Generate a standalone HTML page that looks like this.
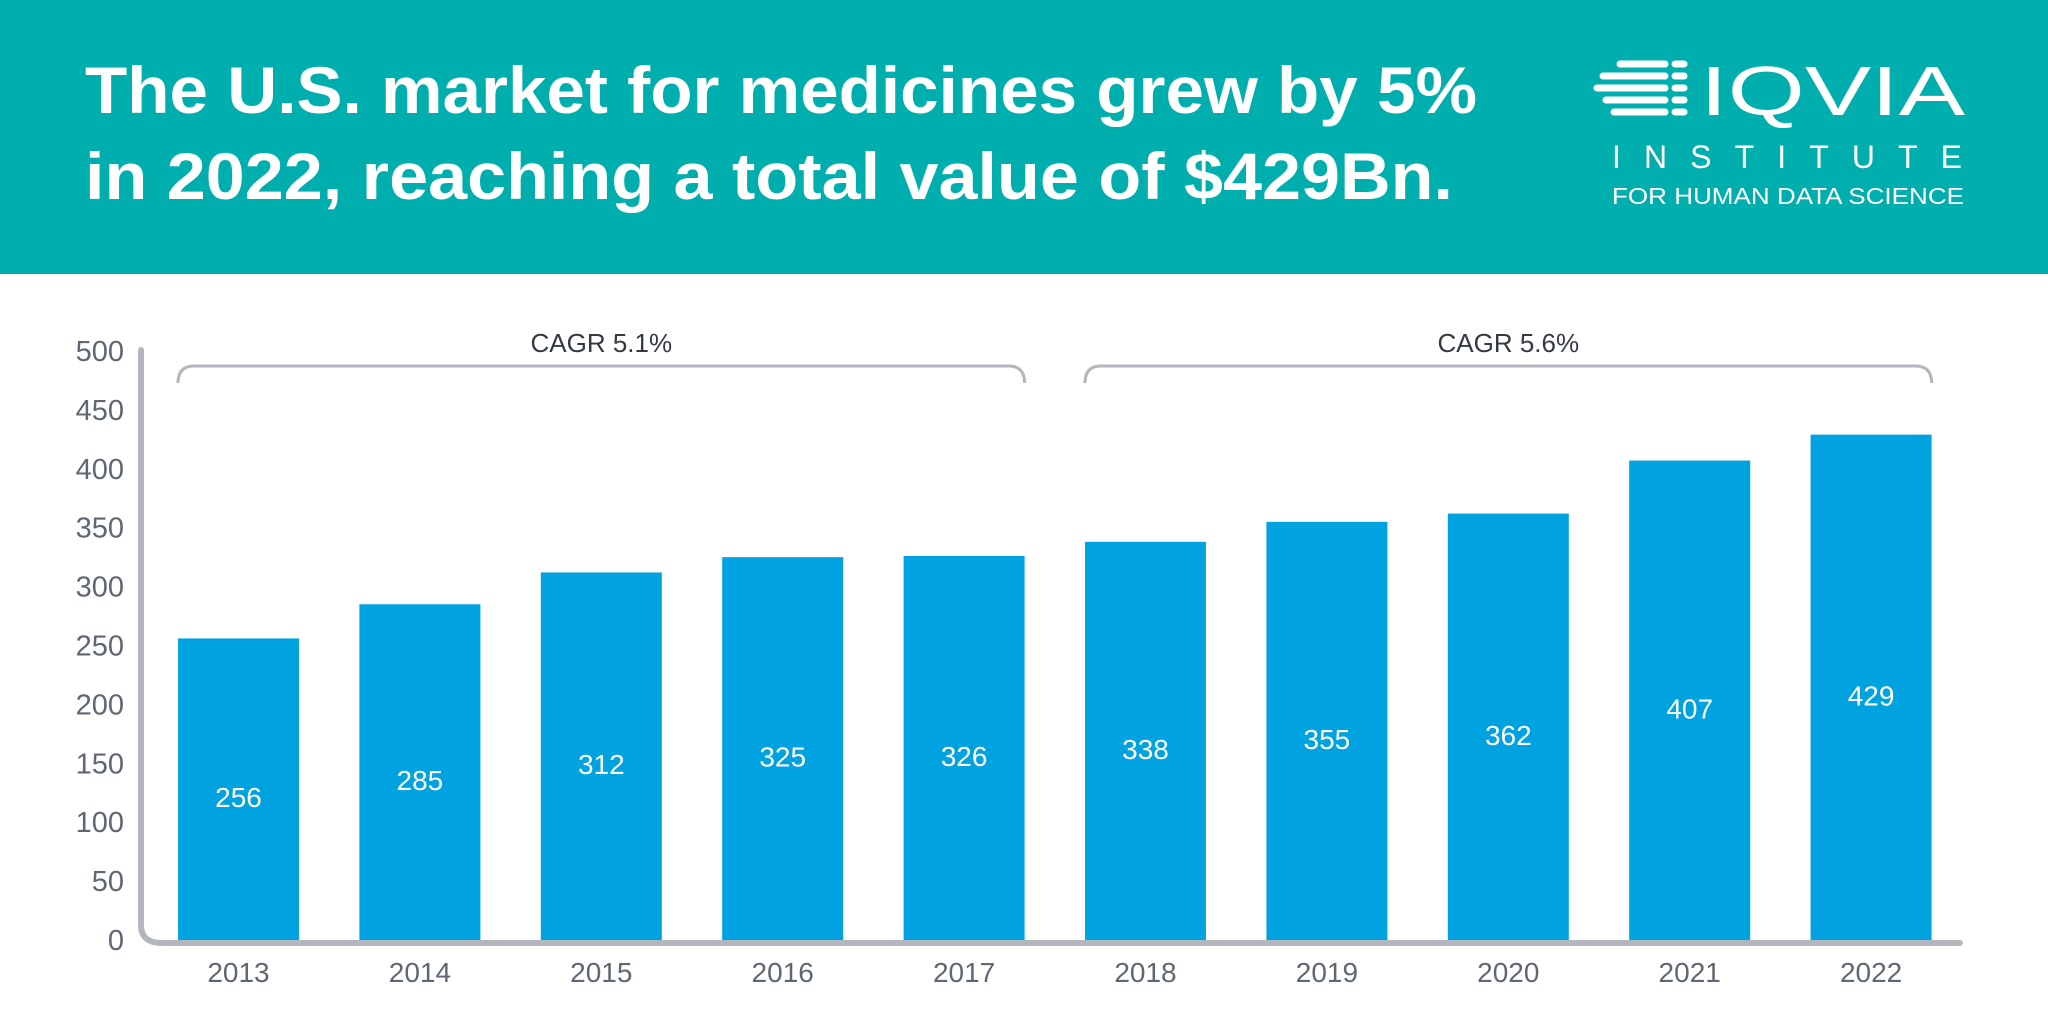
<!DOCTYPE html>
<html><head><meta charset="utf-8"><style>
html,body{margin:0;padding:0;width:2048px;height:1024px;overflow:hidden;background:#fff;font-family:"Liberation Sans",sans-serif}
</style></head><body>
<svg width="2048" height="1024" viewBox="0 0 2048 1024" xmlns="http://www.w3.org/2000/svg">
<rect x="0" y="0" width="2048" height="274" fill="#00AEAD"/>
<g fill="#fff" font-weight="bold" font-size="66">
<text x="85" y="113" textLength="1392" lengthAdjust="spacingAndGlyphs">The U.S. market for medicines grew by 5%</text>
<text x="85" y="199" textLength="1368" lengthAdjust="spacingAndGlyphs">in 2022, reaching a total value of $429Bn.</text>
</g>
<g fill="#fff" stroke="#fff">
<g stroke-width="7" stroke-linecap="round">
<line x1="1620" y1="64" x2="1665" y2="64"/><line x1="1675" y1="64" x2="1684" y2="64"/>
<line x1="1603" y1="76" x2="1665" y2="76"/><line x1="1675" y1="76" x2="1684" y2="76"/>
<line x1="1597" y1="88" x2="1665" y2="88"/><line x1="1675" y1="88" x2="1684" y2="88"/>
<line x1="1606" y1="100" x2="1665" y2="100"/><line x1="1675" y1="100" x2="1684" y2="100"/>
<line x1="1614" y1="112" x2="1665" y2="112"/><line x1="1675" y1="112" x2="1684" y2="112"/>
</g>
<text x="1700" y="115" font-size="70" stroke="none" textLength="265" lengthAdjust="spacingAndGlyphs">IQVIA</text>
<text x="1612" y="168" font-size="32" stroke="none" textLength="350" lengthAdjust="spacing">INSTITUTE</text>
<text x="1612" y="204" font-size="23" stroke="none" textLength="352" lengthAdjust="spacingAndGlyphs">FOR HUMAN DATA SCIENCE</text>
</g>
<g id="chart"></g>
</svg>
<script>
const categories=["2013","2014","2015","2016","2017","2018","2019","2020","2021","2022"];
const values=[256,285,312,325,326,338,355,362,407,429];
const yTicks=[0,50,100,150,200,250,300,350,400,450,500];
const cagrLabels=["CAGR 5.1%","CAGR 5.6%"];
const cagrRanges=[[0,4],[5,9]];
const NS="http://www.w3.org/2000/svg";
const g=document.getElementById('chart');
const baseY=940, pxPerUnit=1.178, firstX=178, step=181.4, barW=121;
function yScale(v){return baseY-v*pxPerUnit;}
function xScale(i){return firstX+i*step;}
function mk(tag,attrs){const e=document.createElementNS(NS,tag);for(const k in attrs)e.setAttribute(k,attrs[k]);g.appendChild(e);return e;}
yTicks.forEach(t=>{
 const e=mk('text',{x:124,y:yScale(t)+10,'text-anchor':'end','font-size':29,fill:'#5f6772'});
 e.textContent=t;
 
 
});
const ax=mk('path',{d:`M141 350 L141 ${baseY-15} Q141 ${baseY+3} 162 ${baseY+3} L1960 ${baseY+3}`,fill:'none',stroke:'#b3b7bd','stroke-width':6,'stroke-linecap':'round'});


values.forEach((v,i)=>{
 const x=xScale(i), top=yScale(v);
 const r=mk('rect',{x:x,y:top,width:barW,height:baseY-top,fill:'#00A2E0'});
 
 
 const t=mk('text',{x:x+barW/2,y:(top+baseY)/2+18,'text-anchor':'middle','font-size':28,fill:'#fff'});
 t.textContent=v;
 
 
 const c=mk('text',{x:x+barW/2,y:982,'text-anchor':'middle','font-size':28,fill:'#5f6772'});
 c.textContent=categories[i];
 
 
});
cagrRanges.forEach((rg,k)=>{
 const x1=xScale(rg[0]), x2=xScale(rg[1])+barW, y=366;
 const p=mk('path',{d:`M${x1} 383 Q${x1} ${y} ${x1+16} ${y} L${x2-16} ${y} Q${x2} ${y} ${x2} 383`,fill:'none',stroke:'#b3b7bd','stroke-width':3});
 
 
 const t=mk('text',{x:(x1+x2)/2,y:352,'text-anchor':'middle','font-size':26,fill:'#333a44'});
 t.textContent=cagrLabels[k];
 
 
});
</script>
</body></html>
